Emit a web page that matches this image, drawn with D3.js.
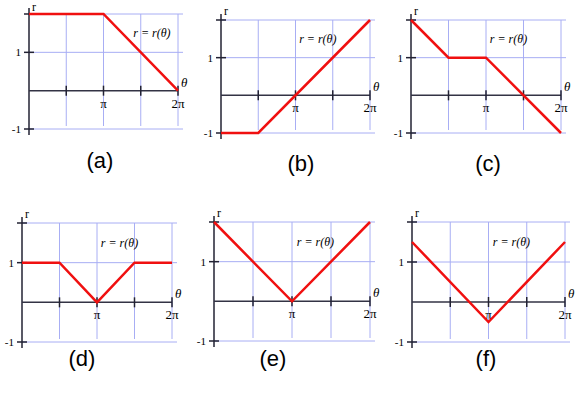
<!DOCTYPE html><html><head><script src="https://cdn.jsdelivr.net/npm/d3@7"></script>
<style>body{margin:0;background:#fff}text{font-family:"Liberation Serif",serif}</style></head><body>
<svg id="c" width="579" height="400"></svg>
<script>
const panelLabels=["(a)","(b)","(c)","(d)","(e)","(f)"];
const thetaTicks=[0,0.5,1,1.5,2];
const thetaLabels=["","","π","","2π"];
const rTicks=[-1,0,1,2];
const thetaA=[0,1,2],rA=[2,2,0];
const thetaB=[0,0.5,2],rB=[-1,-1,2];
const thetaC=[0,0.5,1,2],rC=[2,1,1,-1];
const thetaD=[0,0.5,1,1.5,2],rD=[1,1,0,1,1];
const thetaE=[0,1,2],rE=[2,0,2];
const thetaF=[0,1,2],rF=[1.5,-0.5,1.5];
const series=[[thetaA,rA],[thetaB,rB],[thetaC,rC],[thetaD,rD],[thetaE,rE],[thetaF,rF]];
const layout=[
 {x0:29,x1:178,y2:14,ym1:129,lx:100,ly:160,fx:1.65},
 {x0:221,x1:370,y2:20,ym1:133,lx:301,ly:163,fx:1.3},
 {x0:411,x1:561,y2:20,ym1:133,lx:488,ly:163,fx:1.3},
 {x0:22,x1:172,y2:223,ym1:342,lx:82,ly:358,fx:1.3},
 {x0:214,x1:370,y2:222,ym1:341,lx:273,ly:358,fx:1.3},
 {x0:412,x1:565,y2:222,ym1:342,lx:486,ly:358,fx:1.3}];
const svg=d3.select("#c");
series.forEach((s,i)=>{
 const L=layout[i];
 const x=d3.scaleLinear().domain([0,2]).range([L.x0,L.x1]);
 const y=d3.scaleLinear().domain([-1,2]).range([L.ym1,L.y2]);
 const g=svg.append("g");
 const gc="#a8aef4";
 thetaTicks.slice(1).forEach(t=>g.append("line").attr("x1",x(t)).attr("x2",x(t)).attr("y1",y(2)).attr("y2",y(-1)-3).attr("stroke",gc).attr("stroke-width",1));
 rTicks.forEach(r=>{if(r!==0)g.append("line").attr("x1",x(0)).attr("x2",x(2)+5).attr("y1",y(r)).attr("y2",y(r)).attr("stroke",gc).attr("stroke-width",1);});
 g.append("line").attr("x1",x(0)).attr("x2",x(0)).attr("y1",y(2)-6).attr("y2",y(-1)+6).attr("stroke","#223").attr("stroke-width",1.5);
 g.append("line").attr("x1",x(0)).attr("x2",x(2)).attr("y1",y(0)).attr("y2",y(0)).attr("stroke","#334").attr("stroke-width",1.5);
 thetaTicks.slice(1).forEach((t,k)=>{g.append("line").attr("x1",x(t)).attr("x2",x(t)).attr("y1",y(0)-5).attr("y2",y(0)+5).attr("stroke","#223").attr("stroke-width",1.5);
   const lab=thetaLabels[k+1]; if(lab)g.append("text").attr("x",x(t)).attr("y",y(0)+17).attr("text-anchor","middle").attr("font-size",13).text(lab);});
 rTicks.forEach(r=>{if(r!==0){g.append("line").attr("x1",x(0)-5).attr("x2",x(0)+5).attr("y1",y(r)).attr("y2",y(r)).attr("stroke","#223").attr("stroke-width",1.5);}
   if(r===1||r===-1)g.append("text").attr("x",x(0)-8).attr("y",y(r)+4).attr("text-anchor","end").attr("font-size",11).text(r);});
 g.append("text").attr("x",x(0)+3).attr("y",Math.max(y(2)-5,11)).attr("font-size",12).text("r");
 g.append("text").attr("x",x(2)+3).attr("y",y(0)-4).attr("font-size",13).attr("font-style","italic").text("θ");
 g.append("text").attr("x",x(L.fx)).attr("y",y(1.5)+4).attr("text-anchor","middle").attr("font-size",12).attr("font-style","italic").text("r = r(θ)");
 const line=d3.line().x(d=>x(d[0])).y(d=>y(d[1]));
 g.append("path").attr("d",line(s[0].map((t,k)=>[t,s[1][k]]))).attr("fill","none").attr("stroke","#f01010").attr("stroke-width",2.5);
 g.append("text").attr("x",L.lx).attr("y",L.ly+8).attr("text-anchor","middle").style("font-family","Liberation Sans,Arial").attr("font-size",22).text(panelLabels[i]);
});
</script></body></html>
